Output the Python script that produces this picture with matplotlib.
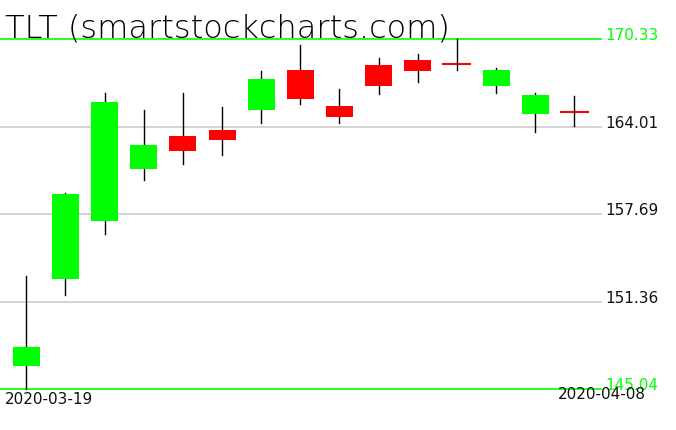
import numpy as np
import matplotlib
matplotlib.use("Agg")
import matplotlib.pyplot as plt

# TLT daily candles
dates = ["2020-03-19", "2020-03-20", "2020-03-23", "2020-03-24", "2020-03-25",
         "2020-03-26", "2020-03-27", "2020-03-30", "2020-03-31", "2020-04-01",
         "2020-04-02", "2020-04-03", "2020-04-06", "2020-04-07", "2020-04-08"]
opens = [146.67, 153.03, 157.22, 160.98, 163.34, 163.78, 165.24, 168.11,
         165.51, 168.47, 168.83, 168.52, 166.98, 164.95, 165.10]
highs = [153.23, 159.22, 166.45, 165.22, 166.45, 165.44, 168.04, 169.92,
         166.74, 168.98, 169.27, 170.33, 168.23, 166.43, 166.21]
lows = [145.04, 151.87, 156.28, 160.18, 161.34, 161.99, 164.30, 165.68,
        164.30, 166.40, 167.27, 168.13, 166.45, 163.65, 164.09]
closes = [148.10, 159.15, 165.80, 162.69, 162.28, 163.08, 167.46, 166.04,
          164.74, 166.98, 168.06, 168.52, 168.11, 166.31, 165.10]

title = "TLT (smartstockcharts.com)"

W, H = 676, 431
fig = plt.figure(figsize=(W / 100, H / 100), dpi=100)
ax = fig.add_axes([0, (H - 390) / H, 601 / W, 349.7 / H])
ax.set_axis_off()

lo, hi = min(lows), max(highs)
ax.set_ylim(lo, hi)
ax.set_xlim(-0.672, 14.68)

# grid / price levels
levels = np.linspace(lo, hi, 5)
trans = ax.get_yaxis_transform()
for i, lv in enumerate(levels):
    edge = i == 0 or i == len(levels) - 1
    col = "#00ff00" if edge else "#cccccc"
    ax.axhline(lv, color=col, lw=1.2, clip_on=False, zorder=1)
    ax.text(605 / 601, lv, f"{lv:.2f}", transform=trans, ha="left", va="baseline",
            color=col if edge else "#111111", fontsize=11, clip_on=False)

bw = 0.69
x = np.arange(len(dates))
for i in x:
    o, h, l, c = opens[i], highs[i], lows[i], closes[i]
    col = "#00ff00" if c > o else "#ff0000"
    if abs(c - o) < 1e-9:
        ax.plot([i - bw / 2, i + bw / 2], [o, o], color=col, lw=1.5, zorder=2,
                clip_on=False)
    else:
        ax.bar(i, abs(c - o), bottom=min(o, c), width=bw, color=col,
               lw=0, zorder=3)
    ax.plot([i, i], [l, h], color="black", lw=1, zorder=2, clip_on=False)

ax.text(5 / 601, -10 / 349.7, dates[0], transform=ax.transAxes, ha="left",
        va="center", fontsize=11, color="#111111", clip_on=False)
ax.text(646 / 601, -5 / 349.7, dates[-1], transform=ax.transAxes, ha="right",
        va="center", fontsize=11, color="#111111", clip_on=False)

fig.text(5 / W, 1 - 37 / H, title, ha="left", va="baseline", fontsize=23,
         fontweight="light", color="black")

fig.savefig("out.png", dpi=100)
